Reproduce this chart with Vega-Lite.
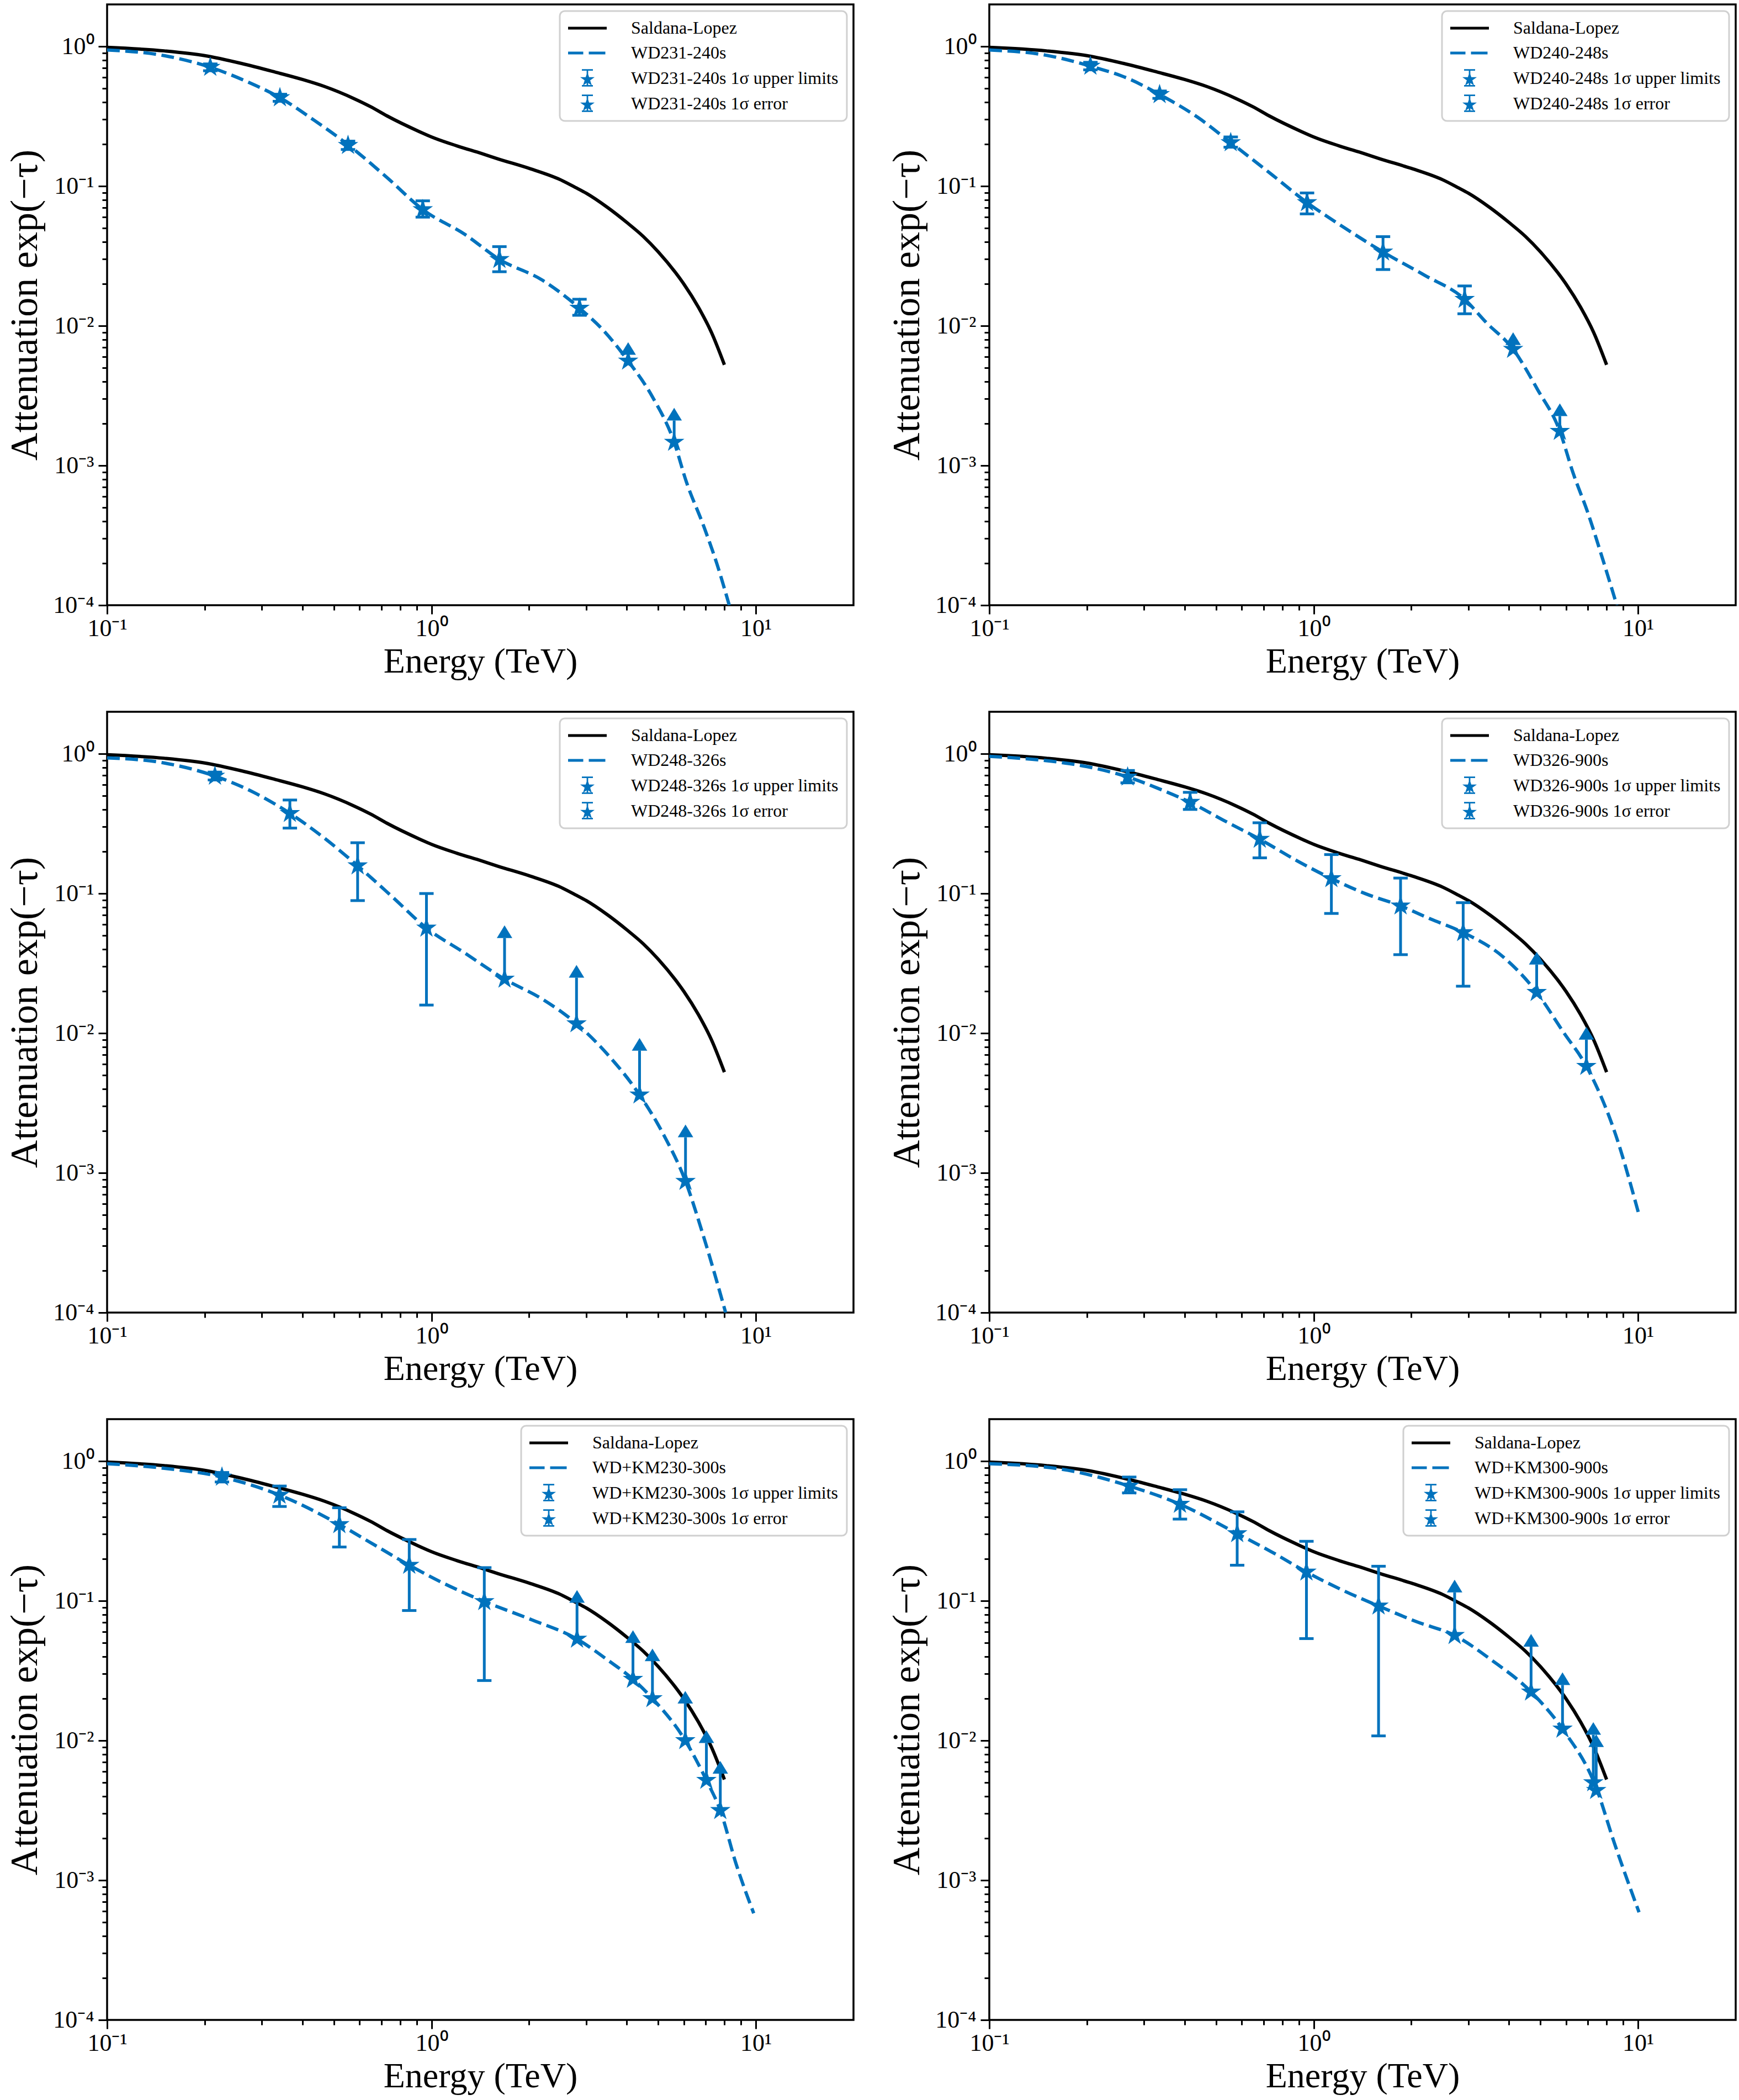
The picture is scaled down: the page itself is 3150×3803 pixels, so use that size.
{
  "$schema": "https://vega.github.io/schema/vega-lite/v6.json",
  "background": "white",
  "padding": {"left": 8, "top": 6, "right": 0, "bottom": 0},
  "config": {
    "font": "Liberation Serif",
    "view": {"stroke": "black", "strokeWidth": 3.5},
    "axis": {"domain": false, "grid": false, "tickColor": "black", "tickWidth": 3, "labelFont": "Liberation Serif", "labelFontSize": 44, "labelColor": "black", "titleFont": "Liberation Serif", "titleFontWeight": "normal", "titleColor": "black"},
    "axisX": {"labelPadding": 4, "titleFontSize": 64, "titlePadding": 6},
    "axisY": {"labelPadding": 8, "titleFontSize": 70, "titlePadding": 14},
    "legend": {"orient": "top-right", "offset": 12, "labelFont": "Liberation Serif", "labelFontSize": 32, "labelColor": "black", "labelLimit": 0, "symbolSize": 625, "symbolStrokeWidth": 5, "symbolOffset": 19, "labelOffset": 63, "padding": 15, "rowPadding": 13, "strokeColor": "#d0d0d0", "strokeWidth": 3, "cornerRadius": 9, "fillColor": "white"}
  },
  "datasets": {
    "saldana": [
      {"series": "Saldana-Lopez", "E": 0.1, "att": 0.985},
      {"series": "Saldana-Lopez", "E": 0.15, "att": 0.93},
      {"series": "Saldana-Lopez", "E": 0.2, "att": 0.86},
      {"series": "Saldana-Lopez", "E": 0.26, "att": 0.755},
      {"series": "Saldana-Lopez", "E": 0.33, "att": 0.655},
      {"series": "Saldana-Lopez", "E": 0.4, "att": 0.58},
      {"series": "Saldana-Lopez", "E": 0.47, "att": 0.515},
      {"series": "Saldana-Lopez", "E": 0.575, "att": 0.425},
      {"series": "Saldana-Lopez", "E": 0.65, "att": 0.37},
      {"series": "Saldana-Lopez", "E": 0.73, "att": 0.318},
      {"series": "Saldana-Lopez", "E": 0.92, "att": 0.245},
      {"series": "Saldana-Lopez", "E": 1.0, "att": 0.225},
      {"series": "Saldana-Lopez", "E": 1.2, "att": 0.194},
      {"series": "Saldana-Lopez", "E": 1.43, "att": 0.171},
      {"series": "Saldana-Lopez", "E": 1.6, "att": 0.157},
      {"series": "Saldana-Lopez", "E": 2.0, "att": 0.134},
      {"series": "Saldana-Lopez", "E": 2.5, "att": 0.111},
      {"series": "Saldana-Lopez", "E": 2.8, "att": 0.097},
      {"series": "Saldana-Lopez", "E": 3.0, "att": 0.089},
      {"series": "Saldana-Lopez", "E": 3.5, "att": 0.07},
      {"series": "Saldana-Lopez", "E": 4.0, "att": 0.055},
      {"series": "Saldana-Lopez", "E": 4.5, "att": 0.0436},
      {"series": "Saldana-Lopez", "E": 5.0, "att": 0.0339},
      {"series": "Saldana-Lopez", "E": 5.65, "att": 0.0241},
      {"series": "Saldana-Lopez", "E": 6.0, "att": 0.0199},
      {"series": "Saldana-Lopez", "E": 6.65, "att": 0.0136},
      {"series": "Saldana-Lopez", "E": 7.3, "att": 0.00895},
      {"series": "Saldana-Lopez", "E": 8.0, "att": 0.00526}
    ],
    "models": [
      {"series": "WD231-240s", "E": 0.1, "att": 0.944},
      {"series": "WD231-240s", "E": 0.15, "att": 0.86},
      {"series": "WD231-240s", "E": 0.208, "att": 0.71},
      {"series": "WD231-240s", "E": 0.27, "att": 0.56},
      {"series": "WD231-240s", "E": 0.341, "att": 0.43},
      {"series": "WD231-240s", "E": 0.437, "att": 0.294},
      {"series": "WD231-240s", "E": 0.553, "att": 0.198},
      {"series": "WD231-240s", "E": 0.73, "att": 0.115},
      {"series": "WD231-240s", "E": 0.94, "att": 0.068},
      {"series": "WD231-240s", "E": 1.27, "att": 0.045},
      {"series": "WD231-240s", "E": 1.62, "att": 0.0299},
      {"series": "WD231-240s", "E": 2.2, "att": 0.0212},
      {"series": "WD231-240s", "E": 2.86, "att": 0.0134},
      {"series": "WD231-240s", "E": 3.4, "att": 0.0092},
      {"series": "WD231-240s", "E": 4.04, "att": 0.0056},
      {"series": "WD231-240s", "E": 4.8, "att": 0.0031},
      {"series": "WD231-240s", "E": 5.6, "att": 0.00147},
      {"series": "WD231-240s", "E": 6.1, "att": 0.00077},
      {"series": "WD231-240s", "E": 6.9, "att": 0.00037},
      {"series": "WD231-240s", "E": 7.6, "att": 0.000195},
      {"series": "WD231-240s", "E": 8.28, "att": 0.0001},
      {"series": "WD240-248s", "E": 0.1, "att": 0.944},
      {"series": "WD240-248s", "E": 0.15, "att": 0.865},
      {"series": "WD240-248s", "E": 0.205, "att": 0.723},
      {"series": "WD240-248s", "E": 0.27, "att": 0.585},
      {"series": "WD240-248s", "E": 0.335, "att": 0.453},
      {"series": "WD240-248s", "E": 0.44, "att": 0.31},
      {"series": "WD240-248s", "E": 0.555, "att": 0.205},
      {"series": "WD240-248s", "E": 0.73, "att": 0.125},
      {"series": "WD240-248s", "E": 0.954, "att": 0.0763},
      {"series": "WD240-248s", "E": 1.25, "att": 0.05},
      {"series": "WD240-248s", "E": 1.636, "att": 0.0338},
      {"series": "WD240-248s", "E": 2.2, "att": 0.023},
      {"series": "WD240-248s", "E": 2.92, "att": 0.0155},
      {"series": "WD240-248s", "E": 3.4, "att": 0.0106},
      {"series": "WD240-248s", "E": 4.12, "att": 0.0068},
      {"series": "WD240-248s", "E": 4.9, "att": 0.0035},
      {"series": "WD240-248s", "E": 5.74, "att": 0.00176},
      {"series": "WD240-248s", "E": 6.3, "att": 0.00089},
      {"series": "WD240-248s", "E": 7.0, "att": 0.00046},
      {"series": "WD240-248s", "E": 7.8, "att": 0.00021},
      {"series": "WD240-248s", "E": 8.6, "att": 0.0001},
      {"series": "WD248-326s", "E": 0.1, "att": 0.936},
      {"series": "WD248-326s", "E": 0.15, "att": 0.86},
      {"series": "WD248-326s", "E": 0.215, "att": 0.693},
      {"series": "WD248-326s", "E": 0.283, "att": 0.53},
      {"series": "WD248-326s", "E": 0.366, "att": 0.375},
      {"series": "WD248-326s", "E": 0.472, "att": 0.245},
      {"series": "WD248-326s", "E": 0.592, "att": 0.158},
      {"series": "WD248-326s", "E": 0.76, "att": 0.094},
      {"series": "WD248-326s", "E": 0.965, "att": 0.0566},
      {"series": "WD248-326s", "E": 1.26, "att": 0.0378},
      {"series": "WD248-326s", "E": 1.68, "att": 0.0244},
      {"series": "WD248-326s", "E": 2.2, "att": 0.0175},
      {"series": "WD248-326s", "E": 2.8, "att": 0.0117},
      {"series": "WD248-326s", "E": 3.5, "att": 0.007},
      {"series": "WD248-326s", "E": 4.38, "att": 0.00362},
      {"series": "WD248-326s", "E": 5.2, "att": 0.00187},
      {"series": "WD248-326s", "E": 6.07, "att": 0.00087},
      {"series": "WD248-326s", "E": 6.9, "att": 0.00035},
      {"series": "WD248-326s", "E": 8.07, "att": 0.0001},
      {"series": "WD326-900s", "E": 0.1, "att": 0.96},
      {"series": "WD326-900s", "E": 0.165, "att": 0.87},
      {"series": "WD326-900s", "E": 0.2, "att": 0.81},
      {"series": "WD326-900s", "E": 0.267, "att": 0.683},
      {"series": "WD326-900s", "E": 0.335, "att": 0.56},
      {"series": "WD326-900s", "E": 0.416, "att": 0.45},
      {"series": "WD326-900s", "E": 0.536, "att": 0.328},
      {"series": "WD326-900s", "E": 0.682, "att": 0.245},
      {"series": "WD326-900s", "E": 0.895, "att": 0.17},
      {"series": "WD326-900s", "E": 1.134, "att": 0.128},
      {"series": "WD326-900s", "E": 1.44, "att": 0.1},
      {"series": "WD326-900s", "E": 1.853, "att": 0.0816},
      {"series": "WD326-900s", "E": 2.3, "att": 0.0655},
      {"series": "WD326-900s", "E": 2.89, "att": 0.0526},
      {"series": "WD326-900s", "E": 3.85, "att": 0.035},
      {"series": "WD326-900s", "E": 4.87, "att": 0.0196},
      {"series": "WD326-900s", "E": 5.9, "att": 0.0101},
      {"series": "WD326-900s", "E": 6.93, "att": 0.0058},
      {"series": "WD326-900s", "E": 8.45, "att": 0.002},
      {"series": "WD326-900s", "E": 10.07, "att": 0.0005},
      {"series": "WD+KM230-300s", "E": 0.1, "att": 0.96},
      {"series": "WD+KM230-300s", "E": 0.15, "att": 0.89},
      {"series": "WD+KM230-300s", "E": 0.226, "att": 0.77},
      {"series": "WD+KM230-300s", "E": 0.34, "att": 0.572},
      {"series": "WD+KM230-300s", "E": 0.52, "att": 0.352},
      {"series": "WD+KM230-300s", "E": 0.67, "att": 0.25},
      {"series": "WD+KM230-300s", "E": 0.854, "att": 0.18},
      {"series": "WD+KM230-300s", "E": 1.08, "att": 0.135},
      {"series": "WD+KM230-300s", "E": 1.455, "att": 0.099},
      {"series": "WD+KM230-300s", "E": 2.03, "att": 0.0735},
      {"series": "WD+KM230-300s", "E": 2.81, "att": 0.0533},
      {"series": "WD+KM230-300s", "E": 3.5, "att": 0.0376},
      {"series": "WD+KM230-300s", "E": 4.18, "att": 0.0275},
      {"series": "WD+KM230-300s", "E": 4.8, "att": 0.02},
      {"series": "WD+KM230-300s", "E": 6.06, "att": 0.01},
      {"series": "WD+KM230-300s", "E": 7.04, "att": 0.0052},
      {"series": "WD+KM230-300s", "E": 7.77, "att": 0.00316},
      {"series": "WD+KM230-300s", "E": 8.7, "att": 0.0013},
      {"series": "WD+KM230-300s", "E": 9.85, "att": 0.00058},
      {"series": "WD+KM300-900s", "E": 0.1, "att": 0.96},
      {"series": "WD+KM300-900s", "E": 0.165, "att": 0.88},
      {"series": "WD+KM300-900s", "E": 0.27, "att": 0.664},
      {"series": "WD+KM300-900s", "E": 0.387, "att": 0.492},
      {"series": "WD+KM300-900s", "E": 0.581, "att": 0.303},
      {"series": "WD+KM300-900s", "E": 0.74, "att": 0.225},
      {"series": "WD+KM300-900s", "E": 0.95, "att": 0.161},
      {"series": "WD+KM300-900s", "E": 1.23, "att": 0.119},
      {"series": "WD+KM300-900s", "E": 1.585, "att": 0.092},
      {"series": "WD+KM300-900s", "E": 2.08, "att": 0.0708},
      {"series": "WD+KM300-900s", "E": 2.72, "att": 0.0566},
      {"series": "WD+KM300-900s", "E": 3.54, "att": 0.0376},
      {"series": "WD+KM300-900s", "E": 4.68, "att": 0.0223},
      {"series": "WD+KM300-900s", "E": 5.85, "att": 0.0121},
      {"series": "WD+KM300-900s", "E": 7.43, "att": 0.0046},
      {"series": "WD+KM300-900s", "E": 8.45, "att": 0.00185},
      {"series": "WD+KM300-900s", "E": 10.07, "att": 0.00059}
    ],
    "points": [
      {"series": "WD231-240s", "E": 0.208, "att": 0.71, "lo": 0.67, "hi": 0.75},
      {"series": "WD231-240s", "E": 0.341, "att": 0.43, "lo": 0.405, "hi": 0.455},
      {"series": "WD231-240s", "E": 0.553, "att": 0.196, "lo": 0.183, "hi": 0.21},
      {"series": "WD231-240s", "E": 0.94, "att": 0.068, "lo": 0.06, "hi": 0.0785},
      {"series": "WD231-240s", "E": 1.62, "att": 0.0299, "lo": 0.0244, "hi": 0.0369},
      {"series": "WD231-240s", "E": 2.86, "att": 0.0134, "lo": 0.0119, "hi": 0.0155},
      {"series": "WD231-240s", "E": 4.04, "att": 0.0056, "ul": 0.0062},
      {"series": "WD231-240s", "E": 5.6, "att": 0.00147, "ul": 0.0021},
      {"series": "WD240-248s", "E": 0.205, "att": 0.723, "lo": 0.68, "hi": 0.77},
      {"series": "WD240-248s", "E": 0.335, "att": 0.453, "lo": 0.425, "hi": 0.48},
      {"series": "WD240-248s", "E": 0.555, "att": 0.205, "lo": 0.19, "hi": 0.225},
      {"series": "WD240-248s", "E": 0.954, "att": 0.0763, "lo": 0.0633, "hi": 0.0894},
      {"series": "WD240-248s", "E": 1.636, "att": 0.0338, "lo": 0.0253, "hi": 0.0435},
      {"series": "WD240-248s", "E": 2.92, "att": 0.0155, "lo": 0.0122, "hi": 0.0193},
      {"series": "WD240-248s", "E": 4.12, "att": 0.0068, "ul": 0.0073},
      {"series": "WD240-248s", "E": 5.74, "att": 0.00176, "ul": 0.00226},
      {"series": "WD248-326s", "E": 0.215, "att": 0.693, "lo": 0.65, "hi": 0.74},
      {"series": "WD248-326s", "E": 0.366, "att": 0.375, "lo": 0.294, "hi": 0.467},
      {"series": "WD248-326s", "E": 0.592, "att": 0.158, "lo": 0.089, "hi": 0.231},
      {"series": "WD248-326s", "E": 0.965, "att": 0.0566, "lo": 0.0159, "hi": 0.1},
      {"series": "WD248-326s", "E": 1.68, "att": 0.0244, "ul": 0.048},
      {"series": "WD248-326s", "E": 2.8, "att": 0.0117, "ul": 0.025},
      {"series": "WD248-326s", "E": 4.38, "att": 0.00362, "ul": 0.0075},
      {"series": "WD248-326s", "E": 6.07, "att": 0.00087, "ul": 0.0018},
      {"series": "WD326-900s", "E": 0.267, "att": 0.683, "lo": 0.62, "hi": 0.76},
      {"series": "WD326-900s", "E": 0.416, "att": 0.45, "lo": 0.4, "hi": 0.53},
      {"series": "WD326-900s", "E": 0.682, "att": 0.245, "lo": 0.18, "hi": 0.321},
      {"series": "WD326-900s", "E": 1.134, "att": 0.128, "lo": 0.072, "hi": 0.19},
      {"series": "WD326-900s", "E": 1.853, "att": 0.0816, "lo": 0.0365, "hi": 0.129},
      {"series": "WD326-900s", "E": 2.89, "att": 0.0526, "lo": 0.0217, "hi": 0.086},
      {"series": "WD326-900s", "E": 4.87, "att": 0.0196, "ul": 0.031},
      {"series": "WD326-900s", "E": 6.93, "att": 0.0058, "ul": 0.009},
      {"series": "WD+KM230-300s", "E": 0.226, "att": 0.77, "lo": 0.71, "hi": 0.83},
      {"series": "WD+KM230-300s", "E": 0.34, "att": 0.572, "lo": 0.474, "hi": 0.664},
      {"series": "WD+KM230-300s", "E": 0.52, "att": 0.352, "lo": 0.243, "hi": 0.464},
      {"series": "WD+KM230-300s", "E": 0.854, "att": 0.18, "lo": 0.0853, "hi": 0.275},
      {"series": "WD+KM230-300s", "E": 1.455, "att": 0.099, "lo": 0.0269, "hi": 0.173},
      {"series": "WD+KM230-300s", "E": 2.81, "att": 0.0533, "ul": 0.097},
      {"series": "WD+KM230-300s", "E": 4.18, "att": 0.0275, "ul": 0.05},
      {"series": "WD+KM230-300s", "E": 4.8, "att": 0.02, "ul": 0.037},
      {"series": "WD+KM230-300s", "E": 6.06, "att": 0.01, "ul": 0.0184},
      {"series": "WD+KM230-300s", "E": 7.04, "att": 0.0052, "ul": 0.0096},
      {"series": "WD+KM230-300s", "E": 7.77, "att": 0.00316, "ul": 0.0058},
      {"series": "WD+KM300-900s", "E": 0.27, "att": 0.664, "lo": 0.593, "hi": 0.77},
      {"series": "WD+KM300-900s", "E": 0.387, "att": 0.492, "lo": 0.385, "hi": 0.625},
      {"series": "WD+KM300-900s", "E": 0.581, "att": 0.303, "lo": 0.18, "hi": 0.434},
      {"series": "WD+KM300-900s", "E": 0.95, "att": 0.161, "lo": 0.0537, "hi": 0.267},
      {"series": "WD+KM300-900s", "E": 1.585, "att": 0.092, "lo": 0.0108, "hi": 0.177},
      {"series": "WD+KM300-900s", "E": 2.72, "att": 0.0566, "ul": 0.115},
      {"series": "WD+KM300-900s", "E": 4.68, "att": 0.0223, "ul": 0.047},
      {"series": "WD+KM300-900s", "E": 5.85, "att": 0.0121, "ul": 0.025},
      {"series": "WD+KM300-900s", "E": 7.28, "att": 0.005, "ul": 0.011},
      {"series": "WD+KM300-900s", "E": 7.43, "att": 0.0044, "ul": 0.009}
    ]
  },
  "columns": 2,
  "bounds": "flush",
  "spacing": {"row": 193, "column": 246},
  "resolve": {"scale": {"x": "independent", "y": "independent", "stroke": "independent"}, "legend": {"stroke": "independent"}},
  "concat": [
    {
      "width": 1352, "height": 1088,
      "encoding": {
        "x": {"field": "E", "type": "quantitative", "title": "Energy (TeV)", "scale": {"type": "log", "domain": [0.1, 20], "nice": false},
          "axis": {"values": [0.1,0.2,0.3,0.4,0.5,0.6,0.7,0.8,0.9,1,2,3,4,5,6,7,8,9,10], "labelOverlap": false, "labelFlush": false,
            "labelExpr": "abs(log(datum.value)/LN10 - round(log(datum.value)/LN10)) < 0.001 ? '10' + ['⁻⁴','⁻³','⁻²','⁻¹','⁰','¹'][round(log(datum.value)/LN10) + 4] : ''",
            "tickSize": {"condition": {"test": "abs(log(datum.value)/LN10 - round(log(datum.value)/LN10)) < 0.001", "value": 16}, "value": 9}}},
        "y": {"field": "att", "type": "quantitative", "title": "Attenuation exp(−τ)", "scale": {"type": "log", "domain": [0.0001, 2], "nice": false},
          "axis": {"values": [0.0001,0.0002,0.0003,0.0004,0.0005,0.0006,0.0007,0.0008,0.0009,0.001,0.002,0.003,0.004,0.005,0.006,0.007,0.008,0.009,0.01,0.02,0.03,0.04,0.05,0.06,0.07,0.08,0.09,0.1,0.2,0.3,0.4,0.5,0.6,0.7,0.8,0.9,1], "labelOverlap": false, "labelFlush": false,
            "labelExpr": "abs(log(datum.value)/LN10 - round(log(datum.value)/LN10)) < 0.001 ? '10' + ['⁻⁴','⁻³','⁻²','⁻¹','⁰','¹'][round(log(datum.value)/LN10) + 4] : ''",
            "tickSize": {"condition": {"test": "abs(log(datum.value)/LN10 - round(log(datum.value)/LN10)) < 0.001", "value": 16}, "value": 9}}}
      },
      "layer": [
        {"data": {"name": "saldana"}, "mark": {"type": "line", "strokeWidth": 6, "clip": true, "interpolate": "monotone"},
          "encoding": {"stroke": {"field": "series", "type": "nominal",
            "scale": {"domain": ["Saldana-Lopez", "WD231-240s", "WD231-240s 1σ upper limits", "WD231-240s 1σ error"], "range": ["#000000", "#0072BD", "#0072BD", "#0072BD"]},
            "legend": {"title": null, "encode": {"symbols": {"update": {
              "shape": {"signal": "datum.index == 0 ? 'M-2.8,0H2.8' : datum.index == 1 ? 'M-2.8,0H-0.6M0.2,0H2.6' : 'M0,-0.95L0.247,-0.19L1.046,-0.19L0.4,0.28L0.647,1.04L0,0.57L-0.647,1.04L-0.4,0.28L-1.046,-0.19L-0.247,-0.19ZM-0.11,-1.24H0.11V1.06H-0.11ZM-0.8,-1.35H0.8V-1.13H-0.8ZM-0.8,0.95H0.8V1.17H-0.8Z'"},
              "fill": {"signal": "datum.index < 2 ? 'transparent' : '#0072BD'"},
              "stroke": {"signal": "datum.index == 0 ? '#000000' : datum.index == 1 ? '#0072BD' : 'transparent'"},
              "strokeWidth": {"signal": "datum.index < 2 ? 5 : 0"},
              "strokeDash": {"value": []}, "opacity": {"value": 1}}}}}}}},
        {"data": {"name": "models"}, "transform": [{"filter": "datum.series == 'WD231-240s'"}],
          "mark": {"type": "line", "strokeWidth": 6, "strokeDash": [23, 10], "clip": true, "interpolate": "monotone"},
          "encoding": {"stroke": {"field": "series", "type": "nominal"}}},
        {"data": {"name": "points"}, "transform": [{"filter": "datum.series == 'WD231-240s' && isValid(datum.lo)"}],
          "mark": {"type": "rule", "color": "#0072BD", "strokeWidth": 5},
          "encoding": {"y": {"field": "lo", "type": "quantitative"}, "y2": {"field": "hi"}}},
        {"data": {"name": "points"}, "transform": [{"filter": "datum.series == 'WD231-240s' && isValid(datum.lo)"}],
          "mark": {"type": "point", "shape": "stroke", "size": 676, "filled": false, "color": "#0072BD", "strokeWidth": 5, "opacity": 1},
          "encoding": {"y": {"field": "lo", "type": "quantitative"}}},
        {"data": {"name": "points"}, "transform": [{"filter": "datum.series == 'WD231-240s' && isValid(datum.lo)"}],
          "mark": {"type": "point", "shape": "stroke", "size": 676, "filled": false, "color": "#0072BD", "strokeWidth": 5, "opacity": 1},
          "encoding": {"y": {"field": "hi", "type": "quantitative"}}},
        {"data": {"name": "points"}, "transform": [{"filter": "datum.series == 'WD231-240s' && isValid(datum.ul)"}],
          "mark": {"type": "rule", "color": "#0072BD", "strokeWidth": 5},
          "encoding": {"y2": {"field": "ul"}}},
        {"data": {"name": "points"}, "transform": [{"filter": "datum.series == 'WD231-240s' && isValid(datum.ul)"}],
          "mark": {"type": "point", "shape": "M-1,0L0,-1.64L1,0Z", "size": 784, "filled": true, "color": "#0072BD", "opacity": 1},
          "encoding": {"y": {"field": "ul", "type": "quantitative"}}},
        {"data": {"name": "points"}, "transform": [{"filter": "datum.series == 'WD231-240s'"}],
          "mark": {"type": "point", "shape": "M0,-1L0.2245,-0.309L0.9511,-0.309L0.3633,0.118L0.5878,0.809L0,0.382L-0.5878,0.809L-0.3633,0.118L-0.9511,-0.309L-0.2245,-0.309Z", "size": 1521, "filled": true, "color": "#0072BD", "opacity": 1}}
      ]
    },
    {
      "width": 1352, "height": 1088,
      "encoding": {
        "x": {"field": "E", "type": "quantitative", "title": "Energy (TeV)", "scale": {"type": "log", "domain": [0.1, 20], "nice": false},
          "axis": {"values": [0.1,0.2,0.3,0.4,0.5,0.6,0.7,0.8,0.9,1,2,3,4,5,6,7,8,9,10], "labelOverlap": false, "labelFlush": false,
            "labelExpr": "abs(log(datum.value)/LN10 - round(log(datum.value)/LN10)) < 0.001 ? '10' + ['⁻⁴','⁻³','⁻²','⁻¹','⁰','¹'][round(log(datum.value)/LN10) + 4] : ''",
            "tickSize": {"condition": {"test": "abs(log(datum.value)/LN10 - round(log(datum.value)/LN10)) < 0.001", "value": 16}, "value": 9}}},
        "y": {"field": "att", "type": "quantitative", "title": "Attenuation exp(−τ)", "scale": {"type": "log", "domain": [0.0001, 2], "nice": false},
          "axis": {"values": [0.0001,0.0002,0.0003,0.0004,0.0005,0.0006,0.0007,0.0008,0.0009,0.001,0.002,0.003,0.004,0.005,0.006,0.007,0.008,0.009,0.01,0.02,0.03,0.04,0.05,0.06,0.07,0.08,0.09,0.1,0.2,0.3,0.4,0.5,0.6,0.7,0.8,0.9,1], "labelOverlap": false, "labelFlush": false,
            "labelExpr": "abs(log(datum.value)/LN10 - round(log(datum.value)/LN10)) < 0.001 ? '10' + ['⁻⁴','⁻³','⁻²','⁻¹','⁰','¹'][round(log(datum.value)/LN10) + 4] : ''",
            "tickSize": {"condition": {"test": "abs(log(datum.value)/LN10 - round(log(datum.value)/LN10)) < 0.001", "value": 16}, "value": 9}}}
      },
      "layer": [
        {"data": {"name": "saldana"}, "mark": {"type": "line", "strokeWidth": 6, "clip": true, "interpolate": "monotone"},
          "encoding": {"stroke": {"field": "series", "type": "nominal",
            "scale": {"domain": ["Saldana-Lopez", "WD240-248s", "WD240-248s 1σ upper limits", "WD240-248s 1σ error"], "range": ["#000000", "#0072BD", "#0072BD", "#0072BD"]},
            "legend": {"title": null, "encode": {"symbols": {"update": {
              "shape": {"signal": "datum.index == 0 ? 'M-2.8,0H2.8' : datum.index == 1 ? 'M-2.8,0H-0.6M0.2,0H2.6' : 'M0,-0.95L0.247,-0.19L1.046,-0.19L0.4,0.28L0.647,1.04L0,0.57L-0.647,1.04L-0.4,0.28L-1.046,-0.19L-0.247,-0.19ZM-0.11,-1.24H0.11V1.06H-0.11ZM-0.8,-1.35H0.8V-1.13H-0.8ZM-0.8,0.95H0.8V1.17H-0.8Z'"},
              "fill": {"signal": "datum.index < 2 ? 'transparent' : '#0072BD'"},
              "stroke": {"signal": "datum.index == 0 ? '#000000' : datum.index == 1 ? '#0072BD' : 'transparent'"},
              "strokeWidth": {"signal": "datum.index < 2 ? 5 : 0"},
              "strokeDash": {"value": []}, "opacity": {"value": 1}}}}}}}},
        {"data": {"name": "models"}, "transform": [{"filter": "datum.series == 'WD240-248s'"}],
          "mark": {"type": "line", "strokeWidth": 6, "strokeDash": [23, 10], "clip": true, "interpolate": "monotone"},
          "encoding": {"stroke": {"field": "series", "type": "nominal"}}},
        {"data": {"name": "points"}, "transform": [{"filter": "datum.series == 'WD240-248s' && isValid(datum.lo)"}],
          "mark": {"type": "rule", "color": "#0072BD", "strokeWidth": 5},
          "encoding": {"y": {"field": "lo", "type": "quantitative"}, "y2": {"field": "hi"}}},
        {"data": {"name": "points"}, "transform": [{"filter": "datum.series == 'WD240-248s' && isValid(datum.lo)"}],
          "mark": {"type": "point", "shape": "stroke", "size": 676, "filled": false, "color": "#0072BD", "strokeWidth": 5, "opacity": 1},
          "encoding": {"y": {"field": "lo", "type": "quantitative"}}},
        {"data": {"name": "points"}, "transform": [{"filter": "datum.series == 'WD240-248s' && isValid(datum.lo)"}],
          "mark": {"type": "point", "shape": "stroke", "size": 676, "filled": false, "color": "#0072BD", "strokeWidth": 5, "opacity": 1},
          "encoding": {"y": {"field": "hi", "type": "quantitative"}}},
        {"data": {"name": "points"}, "transform": [{"filter": "datum.series == 'WD240-248s' && isValid(datum.ul)"}],
          "mark": {"type": "rule", "color": "#0072BD", "strokeWidth": 5},
          "encoding": {"y2": {"field": "ul"}}},
        {"data": {"name": "points"}, "transform": [{"filter": "datum.series == 'WD240-248s' && isValid(datum.ul)"}],
          "mark": {"type": "point", "shape": "M-1,0L0,-1.64L1,0Z", "size": 784, "filled": true, "color": "#0072BD", "opacity": 1},
          "encoding": {"y": {"field": "ul", "type": "quantitative"}}},
        {"data": {"name": "points"}, "transform": [{"filter": "datum.series == 'WD240-248s'"}],
          "mark": {"type": "point", "shape": "M0,-1L0.2245,-0.309L0.9511,-0.309L0.3633,0.118L0.5878,0.809L0,0.382L-0.5878,0.809L-0.3633,0.118L-0.9511,-0.309L-0.2245,-0.309Z", "size": 1521, "filled": true, "color": "#0072BD", "opacity": 1}}
      ]
    },
    {
      "width": 1352, "height": 1088,
      "encoding": {
        "x": {"field": "E", "type": "quantitative", "title": "Energy (TeV)", "scale": {"type": "log", "domain": [0.1, 20], "nice": false},
          "axis": {"values": [0.1,0.2,0.3,0.4,0.5,0.6,0.7,0.8,0.9,1,2,3,4,5,6,7,8,9,10], "labelOverlap": false, "labelFlush": false,
            "labelExpr": "abs(log(datum.value)/LN10 - round(log(datum.value)/LN10)) < 0.001 ? '10' + ['⁻⁴','⁻³','⁻²','⁻¹','⁰','¹'][round(log(datum.value)/LN10) + 4] : ''",
            "tickSize": {"condition": {"test": "abs(log(datum.value)/LN10 - round(log(datum.value)/LN10)) < 0.001", "value": 16}, "value": 9}}},
        "y": {"field": "att", "type": "quantitative", "title": "Attenuation exp(−τ)", "scale": {"type": "log", "domain": [0.0001, 2], "nice": false},
          "axis": {"values": [0.0001,0.0002,0.0003,0.0004,0.0005,0.0006,0.0007,0.0008,0.0009,0.001,0.002,0.003,0.004,0.005,0.006,0.007,0.008,0.009,0.01,0.02,0.03,0.04,0.05,0.06,0.07,0.08,0.09,0.1,0.2,0.3,0.4,0.5,0.6,0.7,0.8,0.9,1], "labelOverlap": false, "labelFlush": false,
            "labelExpr": "abs(log(datum.value)/LN10 - round(log(datum.value)/LN10)) < 0.001 ? '10' + ['⁻⁴','⁻³','⁻²','⁻¹','⁰','¹'][round(log(datum.value)/LN10) + 4] : ''",
            "tickSize": {"condition": {"test": "abs(log(datum.value)/LN10 - round(log(datum.value)/LN10)) < 0.001", "value": 16}, "value": 9}}}
      },
      "layer": [
        {"data": {"name": "saldana"}, "mark": {"type": "line", "strokeWidth": 6, "clip": true, "interpolate": "monotone"},
          "encoding": {"stroke": {"field": "series", "type": "nominal",
            "scale": {"domain": ["Saldana-Lopez", "WD248-326s", "WD248-326s 1σ upper limits", "WD248-326s 1σ error"], "range": ["#000000", "#0072BD", "#0072BD", "#0072BD"]},
            "legend": {"title": null, "encode": {"symbols": {"update": {
              "shape": {"signal": "datum.index == 0 ? 'M-2.8,0H2.8' : datum.index == 1 ? 'M-2.8,0H-0.6M0.2,0H2.6' : 'M0,-0.95L0.247,-0.19L1.046,-0.19L0.4,0.28L0.647,1.04L0,0.57L-0.647,1.04L-0.4,0.28L-1.046,-0.19L-0.247,-0.19ZM-0.11,-1.24H0.11V1.06H-0.11ZM-0.8,-1.35H0.8V-1.13H-0.8ZM-0.8,0.95H0.8V1.17H-0.8Z'"},
              "fill": {"signal": "datum.index < 2 ? 'transparent' : '#0072BD'"},
              "stroke": {"signal": "datum.index == 0 ? '#000000' : datum.index == 1 ? '#0072BD' : 'transparent'"},
              "strokeWidth": {"signal": "datum.index < 2 ? 5 : 0"},
              "strokeDash": {"value": []}, "opacity": {"value": 1}}}}}}}},
        {"data": {"name": "models"}, "transform": [{"filter": "datum.series == 'WD248-326s'"}],
          "mark": {"type": "line", "strokeWidth": 6, "strokeDash": [23, 10], "clip": true, "interpolate": "monotone"},
          "encoding": {"stroke": {"field": "series", "type": "nominal"}}},
        {"data": {"name": "points"}, "transform": [{"filter": "datum.series == 'WD248-326s' && isValid(datum.lo)"}],
          "mark": {"type": "rule", "color": "#0072BD", "strokeWidth": 5},
          "encoding": {"y": {"field": "lo", "type": "quantitative"}, "y2": {"field": "hi"}}},
        {"data": {"name": "points"}, "transform": [{"filter": "datum.series == 'WD248-326s' && isValid(datum.lo)"}],
          "mark": {"type": "point", "shape": "stroke", "size": 676, "filled": false, "color": "#0072BD", "strokeWidth": 5, "opacity": 1},
          "encoding": {"y": {"field": "lo", "type": "quantitative"}}},
        {"data": {"name": "points"}, "transform": [{"filter": "datum.series == 'WD248-326s' && isValid(datum.lo)"}],
          "mark": {"type": "point", "shape": "stroke", "size": 676, "filled": false, "color": "#0072BD", "strokeWidth": 5, "opacity": 1},
          "encoding": {"y": {"field": "hi", "type": "quantitative"}}},
        {"data": {"name": "points"}, "transform": [{"filter": "datum.series == 'WD248-326s' && isValid(datum.ul)"}],
          "mark": {"type": "rule", "color": "#0072BD", "strokeWidth": 5},
          "encoding": {"y2": {"field": "ul"}}},
        {"data": {"name": "points"}, "transform": [{"filter": "datum.series == 'WD248-326s' && isValid(datum.ul)"}],
          "mark": {"type": "point", "shape": "M-1,0L0,-1.64L1,0Z", "size": 784, "filled": true, "color": "#0072BD", "opacity": 1},
          "encoding": {"y": {"field": "ul", "type": "quantitative"}}},
        {"data": {"name": "points"}, "transform": [{"filter": "datum.series == 'WD248-326s'"}],
          "mark": {"type": "point", "shape": "M0,-1L0.2245,-0.309L0.9511,-0.309L0.3633,0.118L0.5878,0.809L0,0.382L-0.5878,0.809L-0.3633,0.118L-0.9511,-0.309L-0.2245,-0.309Z", "size": 1521, "filled": true, "color": "#0072BD", "opacity": 1}}
      ]
    },
    {
      "width": 1352, "height": 1088,
      "encoding": {
        "x": {"field": "E", "type": "quantitative", "title": "Energy (TeV)", "scale": {"type": "log", "domain": [0.1, 20], "nice": false},
          "axis": {"values": [0.1,0.2,0.3,0.4,0.5,0.6,0.7,0.8,0.9,1,2,3,4,5,6,7,8,9,10], "labelOverlap": false, "labelFlush": false,
            "labelExpr": "abs(log(datum.value)/LN10 - round(log(datum.value)/LN10)) < 0.001 ? '10' + ['⁻⁴','⁻³','⁻²','⁻¹','⁰','¹'][round(log(datum.value)/LN10) + 4] : ''",
            "tickSize": {"condition": {"test": "abs(log(datum.value)/LN10 - round(log(datum.value)/LN10)) < 0.001", "value": 16}, "value": 9}}},
        "y": {"field": "att", "type": "quantitative", "title": "Attenuation exp(−τ)", "scale": {"type": "log", "domain": [0.0001, 2], "nice": false},
          "axis": {"values": [0.0001,0.0002,0.0003,0.0004,0.0005,0.0006,0.0007,0.0008,0.0009,0.001,0.002,0.003,0.004,0.005,0.006,0.007,0.008,0.009,0.01,0.02,0.03,0.04,0.05,0.06,0.07,0.08,0.09,0.1,0.2,0.3,0.4,0.5,0.6,0.7,0.8,0.9,1], "labelOverlap": false, "labelFlush": false,
            "labelExpr": "abs(log(datum.value)/LN10 - round(log(datum.value)/LN10)) < 0.001 ? '10' + ['⁻⁴','⁻³','⁻²','⁻¹','⁰','¹'][round(log(datum.value)/LN10) + 4] : ''",
            "tickSize": {"condition": {"test": "abs(log(datum.value)/LN10 - round(log(datum.value)/LN10)) < 0.001", "value": 16}, "value": 9}}}
      },
      "layer": [
        {"data": {"name": "saldana"}, "mark": {"type": "line", "strokeWidth": 6, "clip": true, "interpolate": "monotone"},
          "encoding": {"stroke": {"field": "series", "type": "nominal",
            "scale": {"domain": ["Saldana-Lopez", "WD326-900s", "WD326-900s 1σ upper limits", "WD326-900s 1σ error"], "range": ["#000000", "#0072BD", "#0072BD", "#0072BD"]},
            "legend": {"title": null, "encode": {"symbols": {"update": {
              "shape": {"signal": "datum.index == 0 ? 'M-2.8,0H2.8' : datum.index == 1 ? 'M-2.8,0H-0.6M0.2,0H2.6' : 'M0,-0.95L0.247,-0.19L1.046,-0.19L0.4,0.28L0.647,1.04L0,0.57L-0.647,1.04L-0.4,0.28L-1.046,-0.19L-0.247,-0.19ZM-0.11,-1.24H0.11V1.06H-0.11ZM-0.8,-1.35H0.8V-1.13H-0.8ZM-0.8,0.95H0.8V1.17H-0.8Z'"},
              "fill": {"signal": "datum.index < 2 ? 'transparent' : '#0072BD'"},
              "stroke": {"signal": "datum.index == 0 ? '#000000' : datum.index == 1 ? '#0072BD' : 'transparent'"},
              "strokeWidth": {"signal": "datum.index < 2 ? 5 : 0"},
              "strokeDash": {"value": []}, "opacity": {"value": 1}}}}}}}},
        {"data": {"name": "models"}, "transform": [{"filter": "datum.series == 'WD326-900s'"}],
          "mark": {"type": "line", "strokeWidth": 6, "strokeDash": [23, 10], "clip": true, "interpolate": "monotone"},
          "encoding": {"stroke": {"field": "series", "type": "nominal"}}},
        {"data": {"name": "points"}, "transform": [{"filter": "datum.series == 'WD326-900s' && isValid(datum.lo)"}],
          "mark": {"type": "rule", "color": "#0072BD", "strokeWidth": 5},
          "encoding": {"y": {"field": "lo", "type": "quantitative"}, "y2": {"field": "hi"}}},
        {"data": {"name": "points"}, "transform": [{"filter": "datum.series == 'WD326-900s' && isValid(datum.lo)"}],
          "mark": {"type": "point", "shape": "stroke", "size": 676, "filled": false, "color": "#0072BD", "strokeWidth": 5, "opacity": 1},
          "encoding": {"y": {"field": "lo", "type": "quantitative"}}},
        {"data": {"name": "points"}, "transform": [{"filter": "datum.series == 'WD326-900s' && isValid(datum.lo)"}],
          "mark": {"type": "point", "shape": "stroke", "size": 676, "filled": false, "color": "#0072BD", "strokeWidth": 5, "opacity": 1},
          "encoding": {"y": {"field": "hi", "type": "quantitative"}}},
        {"data": {"name": "points"}, "transform": [{"filter": "datum.series == 'WD326-900s' && isValid(datum.ul)"}],
          "mark": {"type": "rule", "color": "#0072BD", "strokeWidth": 5},
          "encoding": {"y2": {"field": "ul"}}},
        {"data": {"name": "points"}, "transform": [{"filter": "datum.series == 'WD326-900s' && isValid(datum.ul)"}],
          "mark": {"type": "point", "shape": "M-1,0L0,-1.64L1,0Z", "size": 784, "filled": true, "color": "#0072BD", "opacity": 1},
          "encoding": {"y": {"field": "ul", "type": "quantitative"}}},
        {"data": {"name": "points"}, "transform": [{"filter": "datum.series == 'WD326-900s'"}],
          "mark": {"type": "point", "shape": "M0,-1L0.2245,-0.309L0.9511,-0.309L0.3633,0.118L0.5878,0.809L0,0.382L-0.5878,0.809L-0.3633,0.118L-0.9511,-0.309L-0.2245,-0.309Z", "size": 1521, "filled": true, "color": "#0072BD", "opacity": 1}}
      ]
    },
    {
      "width": 1352, "height": 1088,
      "encoding": {
        "x": {"field": "E", "type": "quantitative", "title": "Energy (TeV)", "scale": {"type": "log", "domain": [0.1, 20], "nice": false},
          "axis": {"values": [0.1,0.2,0.3,0.4,0.5,0.6,0.7,0.8,0.9,1,2,3,4,5,6,7,8,9,10], "labelOverlap": false, "labelFlush": false,
            "labelExpr": "abs(log(datum.value)/LN10 - round(log(datum.value)/LN10)) < 0.001 ? '10' + ['⁻⁴','⁻³','⁻²','⁻¹','⁰','¹'][round(log(datum.value)/LN10) + 4] : ''",
            "tickSize": {"condition": {"test": "abs(log(datum.value)/LN10 - round(log(datum.value)/LN10)) < 0.001", "value": 16}, "value": 9}}},
        "y": {"field": "att", "type": "quantitative", "title": "Attenuation exp(−τ)", "scale": {"type": "log", "domain": [0.0001, 2], "nice": false},
          "axis": {"values": [0.0001,0.0002,0.0003,0.0004,0.0005,0.0006,0.0007,0.0008,0.0009,0.001,0.002,0.003,0.004,0.005,0.006,0.007,0.008,0.009,0.01,0.02,0.03,0.04,0.05,0.06,0.07,0.08,0.09,0.1,0.2,0.3,0.4,0.5,0.6,0.7,0.8,0.9,1], "labelOverlap": false, "labelFlush": false,
            "labelExpr": "abs(log(datum.value)/LN10 - round(log(datum.value)/LN10)) < 0.001 ? '10' + ['⁻⁴','⁻³','⁻²','⁻¹','⁰','¹'][round(log(datum.value)/LN10) + 4] : ''",
            "tickSize": {"condition": {"test": "abs(log(datum.value)/LN10 - round(log(datum.value)/LN10)) < 0.001", "value": 16}, "value": 9}}}
      },
      "layer": [
        {"data": {"name": "saldana"}, "mark": {"type": "line", "strokeWidth": 6, "clip": true, "interpolate": "monotone"},
          "encoding": {"stroke": {"field": "series", "type": "nominal",
            "scale": {"domain": ["Saldana-Lopez", "WD+KM230-300s", "WD+KM230-300s 1σ upper limits", "WD+KM230-300s 1σ error"], "range": ["#000000", "#0072BD", "#0072BD", "#0072BD"]},
            "legend": {"title": null, "encode": {"symbols": {"update": {
              "shape": {"signal": "datum.index == 0 ? 'M-2.8,0H2.8' : datum.index == 1 ? 'M-2.8,0H-0.6M0.2,0H2.6' : 'M0,-0.95L0.247,-0.19L1.046,-0.19L0.4,0.28L0.647,1.04L0,0.57L-0.647,1.04L-0.4,0.28L-1.046,-0.19L-0.247,-0.19ZM-0.11,-1.24H0.11V1.06H-0.11ZM-0.8,-1.35H0.8V-1.13H-0.8ZM-0.8,0.95H0.8V1.17H-0.8Z'"},
              "fill": {"signal": "datum.index < 2 ? 'transparent' : '#0072BD'"},
              "stroke": {"signal": "datum.index == 0 ? '#000000' : datum.index == 1 ? '#0072BD' : 'transparent'"},
              "strokeWidth": {"signal": "datum.index < 2 ? 5 : 0"},
              "strokeDash": {"value": []}, "opacity": {"value": 1}}}}}}}},
        {"data": {"name": "models"}, "transform": [{"filter": "datum.series == 'WD+KM230-300s'"}],
          "mark": {"type": "line", "strokeWidth": 6, "strokeDash": [23, 10], "clip": true, "interpolate": "monotone"},
          "encoding": {"stroke": {"field": "series", "type": "nominal"}}},
        {"data": {"name": "points"}, "transform": [{"filter": "datum.series == 'WD+KM230-300s' && isValid(datum.lo)"}],
          "mark": {"type": "rule", "color": "#0072BD", "strokeWidth": 5},
          "encoding": {"y": {"field": "lo", "type": "quantitative"}, "y2": {"field": "hi"}}},
        {"data": {"name": "points"}, "transform": [{"filter": "datum.series == 'WD+KM230-300s' && isValid(datum.lo)"}],
          "mark": {"type": "point", "shape": "stroke", "size": 676, "filled": false, "color": "#0072BD", "strokeWidth": 5, "opacity": 1},
          "encoding": {"y": {"field": "lo", "type": "quantitative"}}},
        {"data": {"name": "points"}, "transform": [{"filter": "datum.series == 'WD+KM230-300s' && isValid(datum.lo)"}],
          "mark": {"type": "point", "shape": "stroke", "size": 676, "filled": false, "color": "#0072BD", "strokeWidth": 5, "opacity": 1},
          "encoding": {"y": {"field": "hi", "type": "quantitative"}}},
        {"data": {"name": "points"}, "transform": [{"filter": "datum.series == 'WD+KM230-300s' && isValid(datum.ul)"}],
          "mark": {"type": "rule", "color": "#0072BD", "strokeWidth": 5},
          "encoding": {"y2": {"field": "ul"}}},
        {"data": {"name": "points"}, "transform": [{"filter": "datum.series == 'WD+KM230-300s' && isValid(datum.ul)"}],
          "mark": {"type": "point", "shape": "M-1,0L0,-1.64L1,0Z", "size": 784, "filled": true, "color": "#0072BD", "opacity": 1},
          "encoding": {"y": {"field": "ul", "type": "quantitative"}}},
        {"data": {"name": "points"}, "transform": [{"filter": "datum.series == 'WD+KM230-300s'"}],
          "mark": {"type": "point", "shape": "M0,-1L0.2245,-0.309L0.9511,-0.309L0.3633,0.118L0.5878,0.809L0,0.382L-0.5878,0.809L-0.3633,0.118L-0.9511,-0.309L-0.2245,-0.309Z", "size": 1521, "filled": true, "color": "#0072BD", "opacity": 1}}
      ]
    },
    {
      "width": 1352, "height": 1088,
      "encoding": {
        "x": {"field": "E", "type": "quantitative", "title": "Energy (TeV)", "scale": {"type": "log", "domain": [0.1, 20], "nice": false},
          "axis": {"values": [0.1,0.2,0.3,0.4,0.5,0.6,0.7,0.8,0.9,1,2,3,4,5,6,7,8,9,10], "labelOverlap": false, "labelFlush": false,
            "labelExpr": "abs(log(datum.value)/LN10 - round(log(datum.value)/LN10)) < 0.001 ? '10' + ['⁻⁴','⁻³','⁻²','⁻¹','⁰','¹'][round(log(datum.value)/LN10) + 4] : ''",
            "tickSize": {"condition": {"test": "abs(log(datum.value)/LN10 - round(log(datum.value)/LN10)) < 0.001", "value": 16}, "value": 9}}},
        "y": {"field": "att", "type": "quantitative", "title": "Attenuation exp(−τ)", "scale": {"type": "log", "domain": [0.0001, 2], "nice": false},
          "axis": {"values": [0.0001,0.0002,0.0003,0.0004,0.0005,0.0006,0.0007,0.0008,0.0009,0.001,0.002,0.003,0.004,0.005,0.006,0.007,0.008,0.009,0.01,0.02,0.03,0.04,0.05,0.06,0.07,0.08,0.09,0.1,0.2,0.3,0.4,0.5,0.6,0.7,0.8,0.9,1], "labelOverlap": false, "labelFlush": false,
            "labelExpr": "abs(log(datum.value)/LN10 - round(log(datum.value)/LN10)) < 0.001 ? '10' + ['⁻⁴','⁻³','⁻²','⁻¹','⁰','¹'][round(log(datum.value)/LN10) + 4] : ''",
            "tickSize": {"condition": {"test": "abs(log(datum.value)/LN10 - round(log(datum.value)/LN10)) < 0.001", "value": 16}, "value": 9}}}
      },
      "layer": [
        {"data": {"name": "saldana"}, "mark": {"type": "line", "strokeWidth": 6, "clip": true, "interpolate": "monotone"},
          "encoding": {"stroke": {"field": "series", "type": "nominal",
            "scale": {"domain": ["Saldana-Lopez", "WD+KM300-900s", "WD+KM300-900s 1σ upper limits", "WD+KM300-900s 1σ error"], "range": ["#000000", "#0072BD", "#0072BD", "#0072BD"]},
            "legend": {"title": null, "encode": {"symbols": {"update": {
              "shape": {"signal": "datum.index == 0 ? 'M-2.8,0H2.8' : datum.index == 1 ? 'M-2.8,0H-0.6M0.2,0H2.6' : 'M0,-0.95L0.247,-0.19L1.046,-0.19L0.4,0.28L0.647,1.04L0,0.57L-0.647,1.04L-0.4,0.28L-1.046,-0.19L-0.247,-0.19ZM-0.11,-1.24H0.11V1.06H-0.11ZM-0.8,-1.35H0.8V-1.13H-0.8ZM-0.8,0.95H0.8V1.17H-0.8Z'"},
              "fill": {"signal": "datum.index < 2 ? 'transparent' : '#0072BD'"},
              "stroke": {"signal": "datum.index == 0 ? '#000000' : datum.index == 1 ? '#0072BD' : 'transparent'"},
              "strokeWidth": {"signal": "datum.index < 2 ? 5 : 0"},
              "strokeDash": {"value": []}, "opacity": {"value": 1}}}}}}}},
        {"data": {"name": "models"}, "transform": [{"filter": "datum.series == 'WD+KM300-900s'"}],
          "mark": {"type": "line", "strokeWidth": 6, "strokeDash": [23, 10], "clip": true, "interpolate": "monotone"},
          "encoding": {"stroke": {"field": "series", "type": "nominal"}}},
        {"data": {"name": "points"}, "transform": [{"filter": "datum.series == 'WD+KM300-900s' && isValid(datum.lo)"}],
          "mark": {"type": "rule", "color": "#0072BD", "strokeWidth": 5},
          "encoding": {"y": {"field": "lo", "type": "quantitative"}, "y2": {"field": "hi"}}},
        {"data": {"name": "points"}, "transform": [{"filter": "datum.series == 'WD+KM300-900s' && isValid(datum.lo)"}],
          "mark": {"type": "point", "shape": "stroke", "size": 676, "filled": false, "color": "#0072BD", "strokeWidth": 5, "opacity": 1},
          "encoding": {"y": {"field": "lo", "type": "quantitative"}}},
        {"data": {"name": "points"}, "transform": [{"filter": "datum.series == 'WD+KM300-900s' && isValid(datum.lo)"}],
          "mark": {"type": "point", "shape": "stroke", "size": 676, "filled": false, "color": "#0072BD", "strokeWidth": 5, "opacity": 1},
          "encoding": {"y": {"field": "hi", "type": "quantitative"}}},
        {"data": {"name": "points"}, "transform": [{"filter": "datum.series == 'WD+KM300-900s' && isValid(datum.ul)"}],
          "mark": {"type": "rule", "color": "#0072BD", "strokeWidth": 5},
          "encoding": {"y2": {"field": "ul"}}},
        {"data": {"name": "points"}, "transform": [{"filter": "datum.series == 'WD+KM300-900s' && isValid(datum.ul)"}],
          "mark": {"type": "point", "shape": "M-1,0L0,-1.64L1,0Z", "size": 784, "filled": true, "color": "#0072BD", "opacity": 1},
          "encoding": {"y": {"field": "ul", "type": "quantitative"}}},
        {"data": {"name": "points"}, "transform": [{"filter": "datum.series == 'WD+KM300-900s'"}],
          "mark": {"type": "point", "shape": "M0,-1L0.2245,-0.309L0.9511,-0.309L0.3633,0.118L0.5878,0.809L0,0.382L-0.5878,0.809L-0.3633,0.118L-0.9511,-0.309L-0.2245,-0.309Z", "size": 1521, "filled": true, "color": "#0072BD", "opacity": 1}}
      ]
    }
  ]
}
